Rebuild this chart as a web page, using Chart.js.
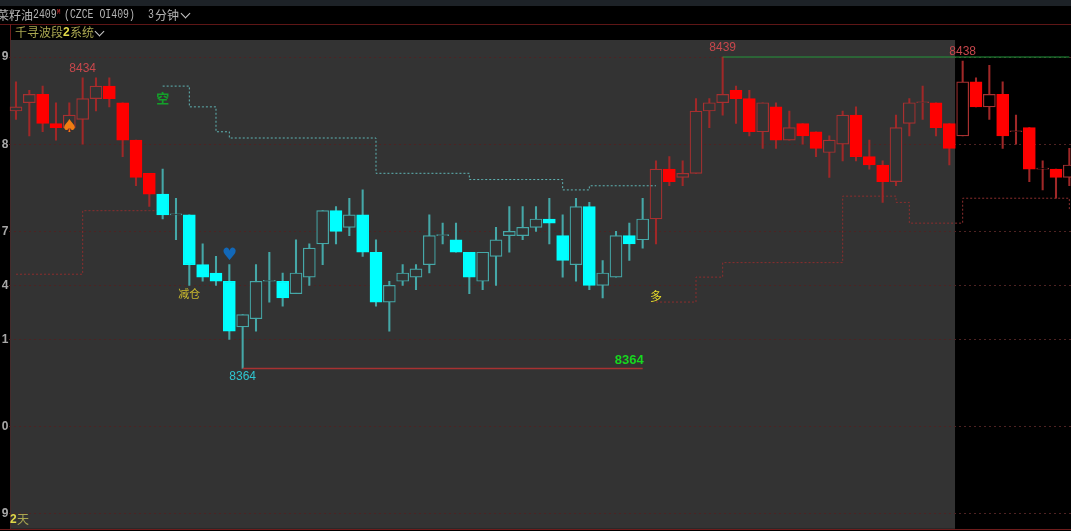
<!DOCTYPE html>
<html>
<head>
<meta charset="utf-8">
<title>菜籽油2409</title>
<script src="https://cdn.jsdelivr.net/npm/chart.js@4"></script>
<style>
html, body { margin: 0; padding: 0; width: 1071px; height: 531px; overflow: hidden; background: #000; }
#stage { position: relative; width: 1071px; height: 531px; overflow: hidden; }
#chart { position: absolute; left: 0; top: 0; }
.bar { position: absolute; }
.t { position: absolute; white-space: nowrap; line-height: 16px; height: 16px; }
.cjk { font-family: "Noto Sans CJK SC", sans-serif; font-size: 12px; }
.mono { font-family: "Liberation Mono", monospace; font-size: 12px; transform: scaleX(0.82); transform-origin: left center; }
.vee { position: absolute; width: 6px; height: 6px; border-right: 1px solid #c8c8c8; border-bottom: 1px solid #c8c8c8; transform: rotate(45deg); }
</style>
</head>
<body>
<div id="stage">
  <div class="bar" style="left:0;top:0;width:1071px;height:6px;background:#1d2227"></div>
  <div class="bar" style="left:0;top:24px;width:1071px;height:1px;background:#5e1616"></div>
  <div class="bar" style="left:10px;top:24px;width:1px;height:505px;background:#6e1c1c"></div>
  <div class="bar" style="left:0;top:529px;width:1071px;height:1px;background:#6e1c1c"></div>
  <canvas id="chart" width="1076" height="537"></canvas>

  <span class="t cjk" style="left:-3px;top:7px;color:#b4b4b4">菜籽油</span>
  <span class="t mono" style="left:33px;top:7px;color:#b4b4b4">2409</span>
  <span class="t mono" style="left:57px;top:4px;color:#d83030;font-size:7px">M</span>
  <span class="t mono" style="left:64px;top:7px;color:#b4b4b4">(CZCE OI409)</span>
  <span class="t mono" style="left:148px;top:7px;color:#b4b4b4">3</span>
  <span class="t cjk" style="left:155px;top:7px;color:#b4b4b4">分钟</span>
  <i class="vee" style="left:182px;top:10px"></i>

  <span class="t cjk" style="left:15px;top:24px;color:#a9a650">千寻波段</span>
  <b class="t" style="left:63px;top:24px;color:#e0d848;font:bold 12px/16px 'Liberation Sans'">2</b>
  <span class="t cjk" style="left:70px;top:24px;color:#a9a650">系统</span>
  <i class="vee" style="left:96px;top:28px"></i>

  <b class="t" style="left:10px;top:511px;color:#e0d848;font:bold 12px/16px 'Liberation Sans'">2</b>
  <span class="t cjk" style="left:17px;top:511px;color:#a9a650">天</span>
</div>
<script>
var opens = [8426,8428,8430,8423,8422,8424,8429,8432,8428,8419,8411,8406,8401,8401,8389,8387,8385,8374,8376,8385,
             8385,8382,8386,8394,8402,8398,8401,8392,8380,8385,8386,8389,8396,8395,8392,8385,8391,8396,8396,8398,
             8400,8396,8389,8403,8384,8386,8396,8395,8400,8412,8410,8411,8426,8428,8431,8429,8421,8427,8419,8423,
             8421,8416,8418,8425,8415,8413,8409,8423,8428,8428,8423,8420,8433,8427,8430,8421,8422,8412,8412,8410];
var closes = [8427,8430,8423,8422,8425,8429,8432,8429,8419,8410,8406,8401,8401,8389,8386,8385,8373,8377,8385,8385,
              8381,8387,8393,8402,8397,8401,8392,8380,8384,8387,8388,8396,8396,8392,8386,8392,8395,8397,8398,8400,
              8399,8390,8403,8384,8387,8396,8394,8400,8412,8409,8411,8426,8428,8430,8429,8421,8428,8419,8422,8420,
              8417,8419,8425,8415,8413,8409,8422,8428,8428,8422,8417,8433,8427,8430,8420,8421,8412,8412,8410,8413];
var highs = [8433,8431,8432,8428,8428,8434,8434,8434,8428,8419,8411,8412,8405,8401,8394,8391,8389,8377,8389,8392,
             8387,8395,8394,8402,8403,8405,8407,8395,8385,8389,8389,8401,8399,8399,8392,8392,8398,8403,8403,8403,
             8405,8401,8405,8404,8390,8397,8399,8405,8414,8415,8414,8429,8429,8439,8432,8431,8428,8428,8426,8423,
             8421,8420,8426,8427,8419,8414,8425,8429,8432,8428,8423,8438,8434,8437,8433,8425,8422,8414,8412,8417];
var lows = [8424,8420,8421,8419,8421,8418,8426,8427,8415,8408,8403,8400,8395,8384,8385,8384,8371,8364,8373,8380,
            8379,8382,8384,8389,8394,8396,8391,8379,8373,8384,8383,8387,8394,8392,8382,8383,8384,8392,8395,8397,
            8394,8386,8385,8383,8381,8386,8390,8393,8394,8408,8408,8411,8422,8425,8423,8420,8417,8417,8419,8418,
            8415,8410,8414,8414,8412,8404,8408,8420,8424,8420,8413,8420,8427,8424,8417,8418,8409,8407,8405,8408];

// upper stop (short side), null where it is not drawn
var upperStop = [null,null,null,null,null,null,null,null,null,null,null,8432,8432,8427,8427,8421,
                 8419.5,8419.5,8419.5,8419.5,8419.5,8419.5,8419.5,8419.5,8419.5,8419.5,8419.5,
                 8411,8411,8411,8411,8411,8411,8411,8409.5,8409.5,8409.5,8409.5,8409.5,8409.5,8409.5,
                 8407,8407,8408,8408,8408,8408,8408,8408,
                 null,null,null,null,null,null,null,null,null,null,null,null,null,null,null,null,
                 null,null,null,null,null,null,null,null,null,null,null,null,null,null,null];
// lower stop (long side)
var lowerStop = [8386.7,8386.7,8386.7,8386.7,8386.7,8402,8402,8402,8402,8402,8402,8402,
                 null,null,null,null,null,null,null,null,null,null,null,null,null,null,null,null,
                 null,null,null,null,null,null,null,null,null,null,null,null,null,null,null,null,null,null,null,null,
                 8380,8380,8380,8386,8386,8389.5,8389.5,8389.5,8389.5,8389.5,8389.5,8389.5,8389.5,8389.5,
                 8405.5,8405.5,8405.5,8405.5,8404,8399,8399,8399,8399,
                 8405,8405,8405,8405,8405,8405,8405,8405,8402];

var tickValues = [8439,8418,8397,8384,8371,8350,8329];
var tickLabels = ["9","8","7","4","1","0","9"];

var markText = ["8434","8439","8438","8364","8364","空","减仓","多","♠","♥"];
var markIndex = [5,53,71,17,46,11,13,48,4,16];
var markValue = [8436.1,8441.2,8440.2,8362,8366,8429,8382,8381.4,8422,8391.3];
var markColor = ["#c8474c","#c8474c","#c8474c","#2fc6d0","#17d81f","#14a02a","#c9b92e","#e8dc2a","#f07c12","#1268b8"];
var markFont = ["12px 'Liberation Sans'","12px 'Liberation Sans'","12px 'Liberation Sans'","12px 'Liberation Sans'",
                "bold 13px 'Liberation Sans'","bold 13px 'Noto Sans CJK SC'","11px 'Noto Sans CJK SC'","12px 'Noto Sans CJK SC'",
                "18px 'DejaVu Sans'","17px 'DejaVu Sans'"];

var categories = opens.map(function(v, i) { return String(i); });
var cyanFrom = 11, cyanTo = 47, lastGreyBar = 70;
var grey = "#333333";

function isCyan(i) { return i >= cyanFrom && i <= cyanTo; }
function isHollow(i) { return closes[i] >= opens[i]; }

var panelPlugin = {
    id: "panel",
    beforeDraw: function(chart) {
        var a = chart.chartArea, x = chart.scales.x;
        var c = chart.ctx;
        c.save();
        c.fillStyle = grey;
        c.fillRect(a.left + 1, a.top, x.getPixelForValue(lastGreyBar) + 5.7 - a.left - 1, a.bottom - a.top);
        c.restore();
    }
};

var marksPlugin = {
    id: "marks",
    afterDatasetsDraw: function(chart) {
        var c = chart.ctx;
        c.save();
        c.textAlign = "center";
        c.textBaseline = "middle";
        markText.forEach(function(txt, i) {
            c.font = markFont[i];
            c.fillStyle = markColor[i];
            c.fillText(txt, chart.scales.x.getPixelForValue(markIndex[i]), chart.scales.y.getPixelForValue(markValue[i]));
        });
        c.restore();
    }
};

var chart = new Chart(document.getElementById("chart"), {
    type: "bar",
    data: {
        labels: categories,
        datasets: [
            {
                label: "body",
                order: 2,
                data: opens.map(function(o, i) { return [o, closes[i]]; }),
                barThickness: 12,
                minBarLength: 1,
                borderWidth: 1.2,
                borderSkipped: false,
                borderColor: function(ctx) {
                    var i = ctx.dataIndex;
                    if (isCyan(i)) return isHollow(i) ? "#45a8a8" : "#00ffff";
                    return isHollow(i) ? "#a83030" : "#ff0000";
                },
                backgroundColor: function(ctx) {
                    var i = ctx.dataIndex;
                    if (isHollow(i)) return i <= lastGreyBar ? grey : "#000000";
                    return isCyan(i) ? "#00ffff" : "#ff0000";
                }
            },
            {
                label: "wick",
                order: 3,
                data: lows.map(function(l, i) { return [l, highs[i]]; }),
                barThickness: 1.4,
                backgroundColor: function(ctx) { return isCyan(ctx.dataIndex) ? "#45a8a8" : "#a02828"; }
            },
            {
                type: "line",
                label: "upper stop",
                order: 1,
                data: upperStop,
                stepped: "before",
                borderColor: "#5fb5b5",
                borderWidth: 1,
                borderDash: [2, 2],
                pointRadius: 0
            },
            {
                type: "line",
                label: "lower stop",
                order: 4,
                data: lowerStop,
                stepped: "before",
                borderColor: "#8c2e2e",
                borderWidth: 1,
                borderDash: [2, 2],
                pointRadius: 0
            },
            {
                type: "line",
                label: "low line",
                order: 1,
                data: [{x: "17", y: 8364}, {x: "47", y: 8364}],
                borderColor: "#a83232",
                borderWidth: 1.5,
                pointRadius: 0
            },
            {
                type: "line",
                label: "high line",
                order: 1,
                data: [{x: "53", y: 8439}, {x: "79", y: 8439}],
                borderColor: "#229a3e",
                borderWidth: 1,
                pointRadius: 0
            }
        ]
    },
    options: {
        responsive: false,
        animation: false,
        layout: { autoPadding: false, padding: { top: 40, bottom: 3, left: 0, right: 0 } },
        plugins: { legend: { display: false }, tooltip: { enabled: false } },
        datasets: { bar: { grouped: false } },
        scales: {
            x: { display: false, grid: { display: false } },
            y: {
                min: 8325.4,
                max: 8443.1,
                afterFit: function(s) { s.width = 9.33; },
                afterBuildTicks: function(s) { s.ticks = tickValues.map(function(v) { return {value: v}; }); },
                border: { display: false, dash: [2, 3] },
                grid: { color: "#4e2222", lineWidth: 1, drawTicks: false },
                ticks: {
                    autoSkip: false,
                    padding: 1,
                    color: "#a8a8a8",
                    font: { family: "Liberation Sans", size: 12, weight: "bold" },
                    callback: function(v, i) { return tickLabels[i]; }
                }
            }
        }
    },
    plugins: [panelPlugin, marksPlugin]
});
</script>
</body>
</html>
